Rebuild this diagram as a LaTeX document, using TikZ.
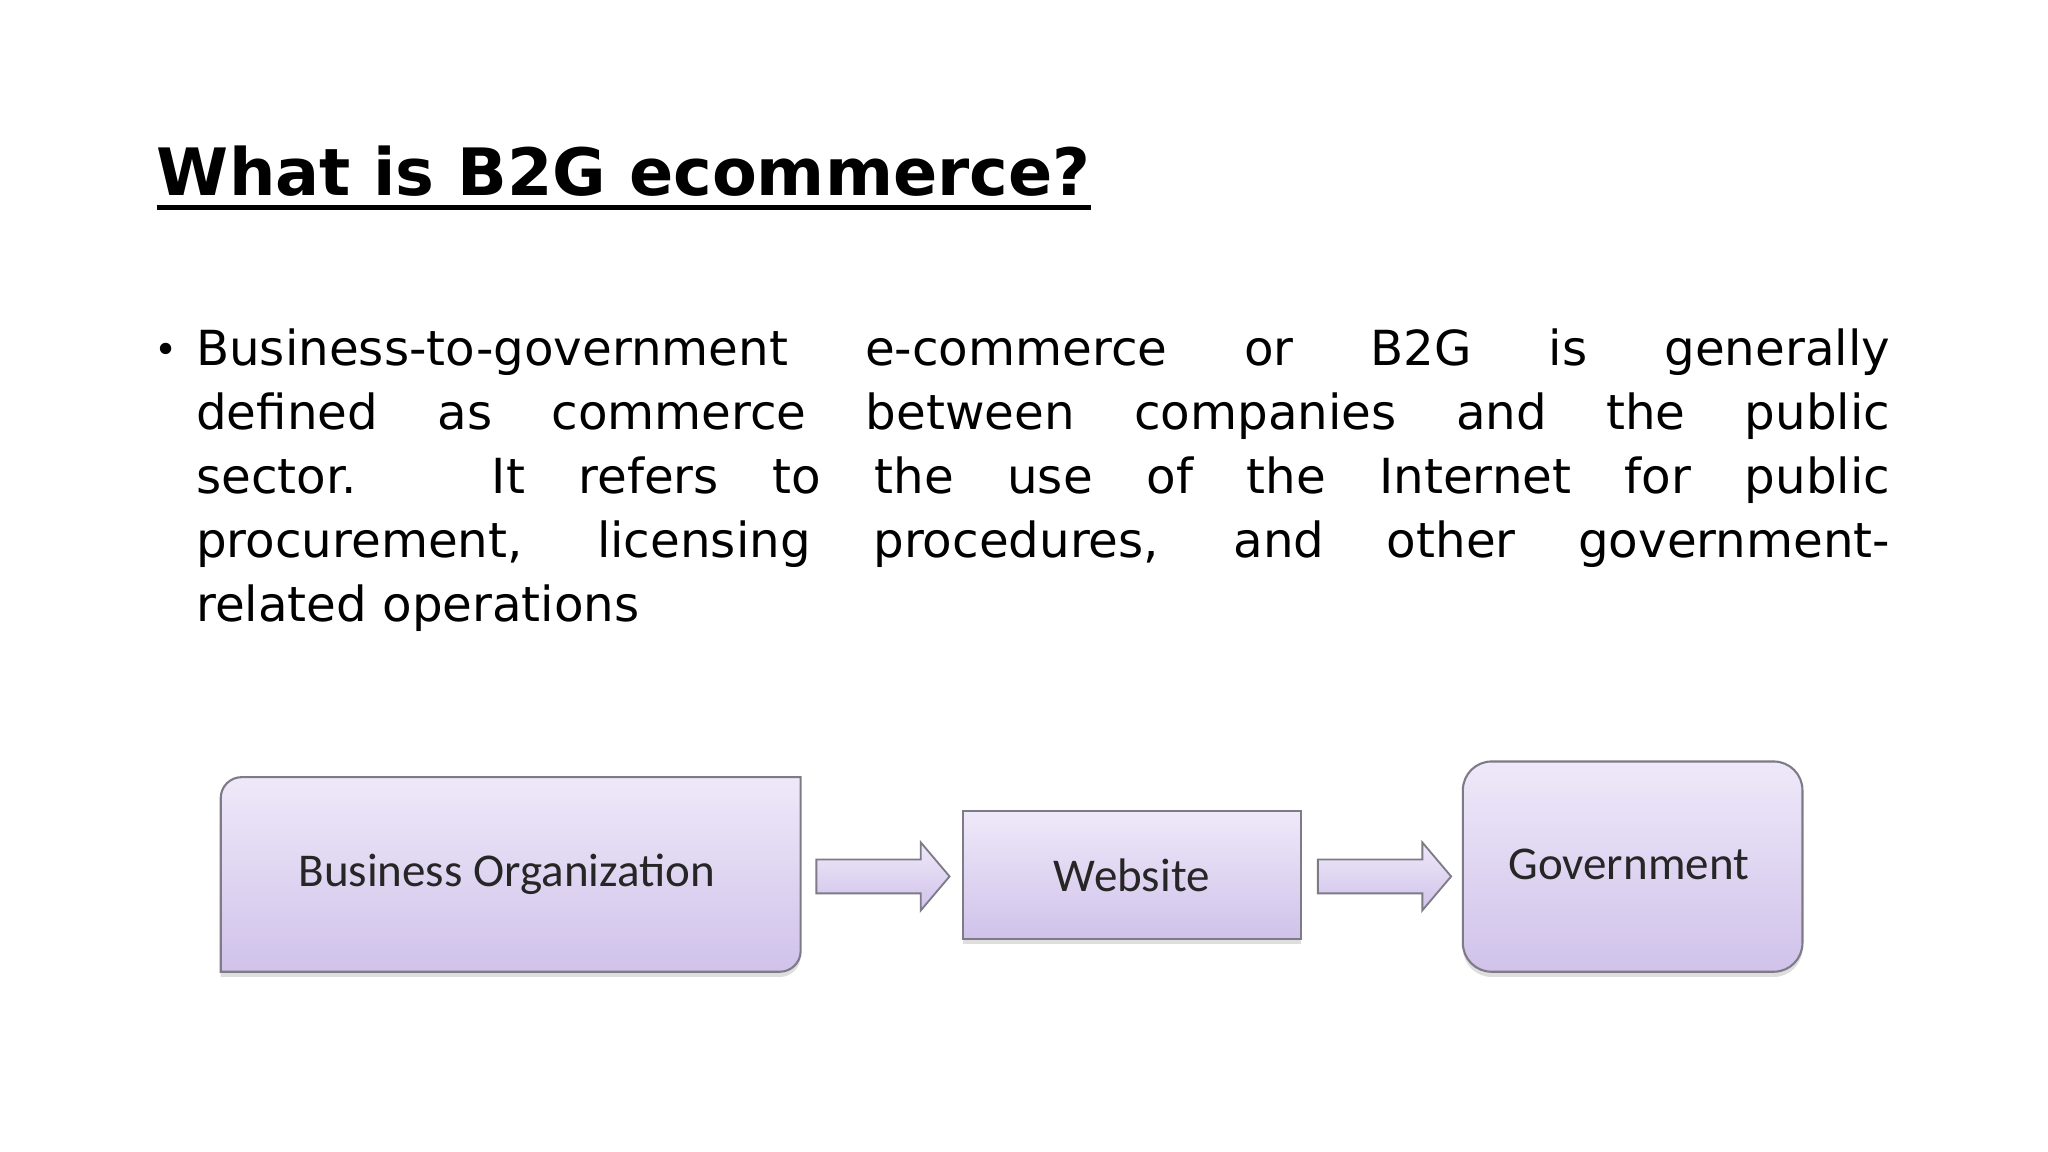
\documentclass[tikz,border=0pt]{standalone}
\usepackage{fontspec}
\setmainfont{DejaVu Sans}
\newfontfamily\calfont{Carlito}
\usetikzlibrary{shadows}
\definecolor{boxtop}{HTML}{EEE9F9}
\definecolor{boxbot}{HTML}{D0C2EA}
\definecolor{boxline}{HTML}{7E7A86}
\tikzset{
 boxlook/.style={draw=boxline,line width=1.6pt,top color=boxtop,bottom color=boxbot,
   drop shadow={shadow xshift=0pt,shadow yshift=-4pt,fill=black!25}},
 flowbox/.style={boxlook,font=\calfont\fontsize{36}{40}\selectfont,text=black!85},
 arrowlook/.style={draw=boxline,line width=1.4pt,top color=boxtop,bottom color=boxbot}
}
\begin{document}
\begin{tikzpicture}[x=1pt,y=-1pt]
\useasboundingbox[fill=white] (0,0) rectangle (1568,882);
\node[anchor=base west,inner sep=0pt,font=\bfseries\fontsize{50}{60}\selectfont] (title) at (120,150) {What is B2G ecommerce?};
\draw[line width=3.5pt] (title.south west)++(0,8) coordinate (u1) -- (title.south east|-u1);
\node[anchor=base west,inner sep=0pt,font=\fontsize{30}{49}\selectfont] (bul) at (118,278) {•};
\node[anchor=base west,inner sep=0pt,text width=1297pt,align=justify,font=\fontsize{37}{49}\selectfont] (body) at (150,280)
 {Business-to-government e-commerce or B2G is generally\linebreak
  defined as commerce between companies and the public\linebreak
  sector. It refers to the use of the Internet for public\linebreak
  procurement, licensing procedures, and other government-\linebreak
  related operations};
\path[boxlook] (169,744) -- (169,611) arc[start angle=180,end angle=270,radius=16] -- (613,595) -- (613,728) arc[start angle=0,end angle=90,radius=16] -- cycle;
\node[font=\calfont\fontsize{36}{40}\selectfont,text=black!85] (bot) at (388,669) {Business Organization};
\node[flowbox,minimum width=259pt,minimum height=98pt] (web) at (866.5,670) {Website};
\node[flowbox,minimum width=260pt,minimum height=161pt,rounded corners=22pt] (gov) at (1250,663.5) {};
\node[font=\calfont\fontsize{36}{40}\selectfont,text=black!85] (govt) at (1247,662) {Government};
\coordinate (a1) at (625,671);
\coordinate (a2) at (1009,671);
\foreach \c in {a1,a2}{
 \path[arrowlook] (\c) ++(0,-13) -- ++(80,0) -- ++(0,-13) -- ++(22,26) -- ++(-22,26) -- ++(0,-13) -- ++(-80,0) -- cycle;
}
\end{tikzpicture}
\end{document}
